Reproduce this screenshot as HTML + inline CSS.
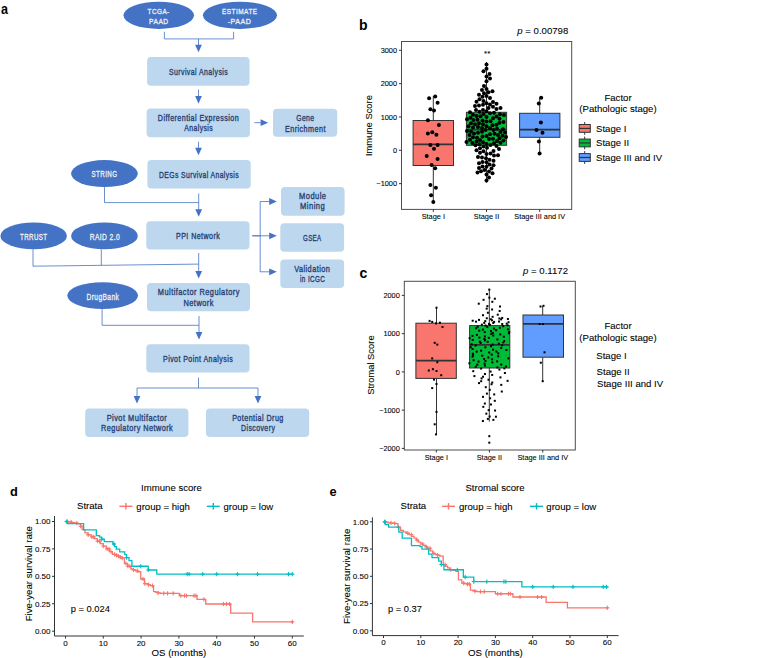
<!DOCTYPE html>
<html><head><meta charset="utf-8"><style>
html,body{margin:0;padding:0;background:#fff;width:764px;height:658px;overflow:hidden}
svg{display:block;font-family:"Liberation Sans", sans-serif}
</style></head><body>
<svg width="764" height="658" viewBox="0 0 764 658">
<rect width="764" height="658" fill="#fff"/>
<text x="0.9" y="13.5" font-size="14" font-weight="bold" fill="#000" textLength="7.0" lengthAdjust="spacingAndGlyphs">a</text>
<ellipse cx="158.75" cy="15.35" rx="35.25" ry="13.55" fill="#4472C4"/>
<text transform="translate(147.55,13.80) scale(0.8200,1)" letter-spacing="0.55" font-size="7.8" font-weight="normal" fill="#F2F2F2" stroke="#F2F2F2" stroke-width="0.3">TCGA-</text>
<text transform="translate(149.05,24.00) scale(0.8560,1)" letter-spacing="0.55" font-size="7.8" font-weight="normal" fill="#F2F2F2" stroke="#F2F2F2" stroke-width="0.3">PAAD</text>
<ellipse cx="239.95" cy="15.35" rx="37.05" ry="13.55" fill="#4472C4"/>
<text transform="translate(222.05,13.80) scale(0.8303,1)" letter-spacing="0.55" font-size="7.8" font-weight="normal" fill="#F2F2F2" stroke="#F2F2F2" stroke-width="0.3">ESTIMATE</text>
<text transform="translate(227.65,24.00) scale(0.9152,1)" letter-spacing="0.55" font-size="7.8" font-weight="normal" fill="#F2F2F2" stroke="#F2F2F2" stroke-width="0.3">-PAAD</text>
<path d="M164.40 31.80 L164.40 38.90 L233.60 38.90 L233.60 31.80" fill="none" stroke="#4472C4" stroke-width="0.8"/>
<path d="M198.50 38.90 L198.50 45.70" fill="none" stroke="#4472C4" stroke-width="0.8"/>
<path d="M195.10 44.70 L201.90 44.70 L198.50 52.30 Z" fill="#4472C4"/>
<rect x="147.10" y="57.10" width="102.40" height="28.70" rx="4" ry="4" fill="#BDD7EE"/>
<text transform="translate(168.95,75.10) scale(0.7780,1)" letter-spacing="0.55" font-size="8.9" font-weight="normal" fill="#273F72" stroke="#273F72" stroke-width="0.35">Survival Analysis</text>
<path d="M198.50 89.50 L198.50 97.10" fill="none" stroke="#4472C4" stroke-width="0.8"/>
<path d="M195.10 96.10 L201.90 96.10 L198.50 103.70 Z" fill="#4472C4"/>
<rect x="146.60" y="108.60" width="103.30" height="28.60" rx="4" ry="4" fill="#BDD7EE"/>
<text transform="translate(157.85,121.20) scale(0.8012,1)" letter-spacing="0.55" font-size="8.9" font-weight="normal" fill="#273F72" stroke="#273F72" stroke-width="0.35">Differential Expression</text>
<text transform="translate(184.25,131.40) scale(0.7705,1)" letter-spacing="0.55" font-size="8.9" font-weight="normal" fill="#273F72" stroke="#273F72" stroke-width="0.35">Analysis</text>
<path d="M254.30 122.70 L261.60 122.70" fill="none" stroke="#4472C4" stroke-width="0.8"/>
<path d="M260.60 119.30 L260.60 126.10 L268.20 122.70 Z" fill="#4472C4"/>
<rect x="273.00" y="108.80" width="64.20" height="28.00" rx="4" ry="4" fill="#BDD7EE"/>
<text transform="translate(296.15,121.20) scale(0.7686,1)" letter-spacing="0.55" font-size="8.9" font-weight="normal" fill="#273F72" stroke="#273F72" stroke-width="0.35">Gene</text>
<text transform="translate(284.95,131.60) scale(0.8106,1)" letter-spacing="0.55" font-size="8.9" font-weight="normal" fill="#273F72" stroke="#273F72" stroke-width="0.35">Enrichment</text>
<path d="M198.50 141.80 L198.50 148.70" fill="none" stroke="#4472C4" stroke-width="0.8"/>
<path d="M195.10 147.70 L201.90 147.70 L198.50 155.30 Z" fill="#4472C4"/>
<rect x="147.40" y="160.00" width="103.30" height="28.50" rx="4" ry="4" fill="#BDD7EE"/>
<text transform="translate(159.05,177.80) scale(0.7624,1)" letter-spacing="0.55" font-size="8.9" font-weight="normal" fill="#273F72" stroke="#273F72" stroke-width="0.35">DEGs Survival Analysis</text>
<ellipse cx="104.45" cy="173.60" rx="33.35" ry="13.50" fill="#4472C4"/>
<text transform="translate(91.55,177.00) scale(0.7236,1)" letter-spacing="0.55" font-size="8.6" font-weight="normal" fill="#F2F2F2" stroke="#F2F2F2" stroke-width="0.3">STRING</text>
<path d="M104.50 187.10 L104.50 202.60 L198.70 202.60" fill="none" stroke="#4472C4" stroke-width="0.8"/>
<path d="M198.70 193.50 L198.70 210.20" fill="none" stroke="#4472C4" stroke-width="0.8"/>
<path d="M195.30 209.20 L202.10 209.20 L198.70 216.80 Z" fill="#4472C4"/>
<rect x="146.30" y="221.30" width="103.20" height="28.30" rx="4" ry="4" fill="#BDD7EE"/>
<text transform="translate(176.05,239.30) scale(0.7970,1)" letter-spacing="0.55" font-size="8.9" font-weight="normal" fill="#273F72" stroke="#273F72" stroke-width="0.35">PPI Network</text>
<ellipse cx="33.65" cy="235.90" rx="33.25" ry="13.30" fill="#4472C4"/>
<text transform="translate(20.05,239.60) scale(0.7176,1)" letter-spacing="0.55" font-size="8.6" font-weight="normal" fill="#F2F2F2" stroke="#F2F2F2" stroke-width="0.3">TRRUST</text>
<ellipse cx="104.45" cy="235.90" rx="33.35" ry="13.30" fill="#4472C4"/>
<text transform="translate(89.65,239.60) scale(0.7770,1)" letter-spacing="0.55" font-size="8.6" font-weight="normal" fill="#F2F2F2" stroke="#F2F2F2" stroke-width="0.3">RAID 2.0</text>
<path d="M33.00 249.20 L33.00 266.20 L198.70 264.10" fill="none" stroke="#4472C4" stroke-width="0.8"/>
<path d="M101.30 249.20 L101.30 265.30" fill="none" stroke="#4472C4" stroke-width="0.8"/>
<path d="M198.70 253.00 L198.70 271.90" fill="none" stroke="#4472C4" stroke-width="0.8"/>
<path d="M195.30 270.90 L202.10 270.90 L198.70 278.50 Z" fill="#4472C4"/>
<path d="M252.30 235.80 L260.20 235.80" fill="none" stroke="#4472C4" stroke-width="0.8"/>
<path d="M260.20 201.50 L260.20 272.00" fill="none" stroke="#4472C4" stroke-width="0.8"/>
<path d="M260.20 201.50 L270.20 201.50" fill="none" stroke="#4472C4" stroke-width="0.8"/>
<path d="M269.20 198.10 L269.20 204.90 L276.80 201.50 Z" fill="#4472C4"/>
<path d="M252.30 235.80 L270.20 235.80" fill="none" stroke="#4472C4" stroke-width="0.8"/>
<path d="M269.20 232.40 L269.20 239.20 L276.80 235.80 Z" fill="#4472C4"/>
<path d="M260.20 271.80 L270.20 271.80" fill="none" stroke="#4472C4" stroke-width="0.8"/>
<path d="M269.20 268.40 L269.20 275.20 L276.80 271.80 Z" fill="#4472C4"/>
<rect x="281.00" y="187.10" width="63.60" height="28.70" rx="4" ry="4" fill="#BDD7EE"/>
<text transform="translate(299.05,199.20) scale(0.8423,1)" letter-spacing="0.55" font-size="8.9" font-weight="normal" fill="#273F72" stroke="#273F72" stroke-width="0.35">Module</text>
<text transform="translate(300.05,209.30) scale(0.8527,1)" letter-spacing="0.55" font-size="8.9" font-weight="normal" fill="#273F72" stroke="#273F72" stroke-width="0.35">Mining</text>
<rect x="280.30" y="223.20" width="63.80" height="28.50" rx="4" ry="4" fill="#BDD7EE"/>
<text transform="translate(303.05,240.70) scale(0.6861,1)" letter-spacing="0.55" font-size="8.9" font-weight="normal" fill="#273F72" stroke="#273F72" stroke-width="0.35">GSEA</text>
<rect x="280.30" y="259.40" width="63.80" height="28.50" rx="4" ry="4" fill="#BDD7EE"/>
<text transform="translate(294.15,271.80) scale(0.8230,1)" letter-spacing="0.55" font-size="8.9" font-weight="normal" fill="#273F72" stroke="#273F72" stroke-width="0.35">Validation</text>
<text transform="translate(300.05,282.20) scale(0.7096,1)" letter-spacing="0.55" font-size="8.9" font-weight="normal" fill="#273F72" stroke="#273F72" stroke-width="0.35">in ICGC</text>
<rect x="147.00" y="283.00" width="103.00" height="28.30" rx="4" ry="4" fill="#BDD7EE"/>
<text transform="translate(157.85,295.30) scale(0.8317,1)" letter-spacing="0.55" font-size="8.9" font-weight="normal" fill="#273F72" stroke="#273F72" stroke-width="0.35">Multifactor Regulatory</text>
<text transform="translate(183.45,306.00) scale(0.8375,1)" letter-spacing="0.55" font-size="8.9" font-weight="normal" fill="#273F72" stroke="#273F72" stroke-width="0.35">Network</text>
<ellipse cx="102.65" cy="295.55" rx="35.35" ry="13.35" fill="#4472C4"/>
<text transform="translate(86.45,299.50) scale(0.7721,1)" letter-spacing="0.55" font-size="8.6" font-weight="normal" fill="#F2F2F2" stroke="#F2F2F2" stroke-width="0.3">DrugBank</text>
<path d="M102.10 308.90 L102.10 325.30 L199.00 325.30" fill="none" stroke="#4472C4" stroke-width="0.8"/>
<path d="M199.00 316.00 L199.00 332.90" fill="none" stroke="#4472C4" stroke-width="0.8"/>
<path d="M195.60 331.90 L202.40 331.90 L199.00 339.50 Z" fill="#4472C4"/>
<rect x="146.30" y="344.30" width="103.20" height="28.30" rx="4" ry="4" fill="#BDD7EE"/>
<text transform="translate(163.05,362.30) scale(0.7910,1)" letter-spacing="0.55" font-size="8.9" font-weight="normal" fill="#273F72" stroke="#273F72" stroke-width="0.35">Pivot Point Analysis</text>
<path d="M198.50 377.60 L198.50 388.00" fill="none" stroke="#4472C4" stroke-width="0.8"/>
<path d="M137.00 388.00 L258.00 388.00" fill="none" stroke="#4472C4" stroke-width="0.8"/>
<path d="M137.00 388.00 L137.00 396.90" fill="none" stroke="#4472C4" stroke-width="0.8"/>
<path d="M133.60 395.90 L140.40 395.90 L137.00 403.50 Z" fill="#4472C4"/>
<path d="M258.00 388.00 L258.00 396.90" fill="none" stroke="#4472C4" stroke-width="0.8"/>
<path d="M254.60 395.90 L261.40 395.90 L258.00 403.50 Z" fill="#4472C4"/>
<rect x="85.20" y="408.60" width="103.20" height="28.30" rx="4" ry="4" fill="#BDD7EE"/>
<text transform="translate(106.65,421.20) scale(0.8363,1)" letter-spacing="0.55" font-size="8.9" font-weight="normal" fill="#273F72" stroke="#273F72" stroke-width="0.35">Pivot Multifactor</text>
<text transform="translate(100.95,431.40) scale(0.8206,1)" letter-spacing="0.55" font-size="8.9" font-weight="normal" fill="#273F72" stroke="#273F72" stroke-width="0.35">Regulatory Network</text>
<rect x="206.00" y="408.60" width="103.20" height="28.30" rx="4" ry="4" fill="#BDD7EE"/>
<text transform="translate(232.15,421.20) scale(0.8057,1)" letter-spacing="0.55" font-size="8.9" font-weight="normal" fill="#273F72" stroke="#273F72" stroke-width="0.35">Potential Drug</text>
<text transform="translate(241.05,431.40) scale(0.7776,1)" letter-spacing="0.55" font-size="8.9" font-weight="normal" fill="#273F72" stroke="#273F72" stroke-width="0.35">Discovery</text>
<rect x="401.50" y="41.50" width="170.20" height="167.90" fill="none" stroke="#4D4D4D" stroke-width="1"/>
<line x1="399.00" y1="50.31" x2="401.50" y2="50.31" stroke="#333" stroke-width="1"/>
<text x="397.00" y="52.96" font-size="7.36" text-anchor="end" fill="#000" stroke="#000" stroke-width="0.08" >3000</text>
<line x1="399.00" y1="83.64" x2="401.50" y2="83.64" stroke="#333" stroke-width="1"/>
<text x="397.00" y="86.29" font-size="7.36" text-anchor="end" fill="#000" stroke="#000" stroke-width="0.08" >2000</text>
<line x1="399.00" y1="116.97" x2="401.50" y2="116.97" stroke="#333" stroke-width="1"/>
<text x="397.00" y="119.62" font-size="7.36" text-anchor="end" fill="#000" stroke="#000" stroke-width="0.08" >1000</text>
<line x1="399.00" y1="150.30" x2="401.50" y2="150.30" stroke="#333" stroke-width="1"/>
<text x="397.00" y="152.95" font-size="7.36" text-anchor="end" fill="#000" stroke="#000" stroke-width="0.08" >0</text>
<line x1="399.00" y1="183.63" x2="401.50" y2="183.63" stroke="#333" stroke-width="1"/>
<text x="397.00" y="186.28" font-size="7.36" text-anchor="end" fill="#000" stroke="#000" stroke-width="0.08" >−1000</text>
<text transform="translate(371.70,125.60) rotate(-90)" font-size="9.4" text-anchor="middle" fill="#000" stroke="#000" stroke-width="0.08">Immune Score</text>
<line x1="433.30" y1="209.40" x2="433.30" y2="211.90" stroke="#333" stroke-width="1"/>
<text x="433.30" y="219.00" font-size="7.36" text-anchor="middle" fill="#000" stroke="#000" stroke-width="0.08" >Stage I</text>
<line x1="486.50" y1="209.40" x2="486.50" y2="211.90" stroke="#333" stroke-width="1"/>
<text x="486.50" y="219.00" font-size="7.36" text-anchor="middle" fill="#000" stroke="#000" stroke-width="0.08" >Stage II</text>
<line x1="539.70" y1="209.40" x2="539.70" y2="211.90" stroke="#333" stroke-width="1"/>
<text x="539.70" y="219.00" font-size="7.36" text-anchor="middle" fill="#000" stroke="#000" stroke-width="0.08" >Stage III and IV</text>
<text x="359.00" y="30.00" font-size="14" text-anchor="start" fill="#000" font-weight="bold">b</text>
<text x="568.3" y="33.9" font-size="9.6" text-anchor="end" fill="#000" stroke="#000" stroke-width="0.08"><tspan font-style="italic">p</tspan> = 0.00798</text>
<text x="487.20" y="55.50" font-size="8" text-anchor="middle" fill="#000" stroke="#000" stroke-width="0.08" >**</text>
<line x1="433.30" y1="95.97" x2="433.30" y2="120.50" stroke="#333" stroke-width="1"/>
<line x1="433.30" y1="165.50" x2="433.30" y2="202.96" stroke="#333" stroke-width="1"/>
<rect x="413.10" y="120.50" width="40.40" height="45.00" fill="#F8766D" stroke="#333" stroke-width="1"/>
<line x1="413.10" y1="144.30" x2="453.50" y2="144.30" stroke="#333" stroke-width="1.8"/>
<line x1="486.50" y1="61.98" x2="486.50" y2="112.30" stroke="#333" stroke-width="1"/>
<line x1="486.50" y1="145.30" x2="486.50" y2="182.63" stroke="#333" stroke-width="1"/>
<rect x="466.40" y="112.30" width="40.20" height="33.00" fill="#00BA38" stroke="#333" stroke-width="1"/>
<line x1="466.40" y1="129.64" x2="506.60" y2="129.64" stroke="#333" stroke-width="1.8"/>
<line x1="539.70" y1="97.31" x2="539.70" y2="113.30" stroke="#333" stroke-width="1"/>
<line x1="539.70" y1="137.30" x2="539.70" y2="153.30" stroke="#333" stroke-width="1"/>
<rect x="519.60" y="113.30" width="40.30" height="24.00" fill="#619CFF" stroke="#333" stroke-width="1"/>
<line x1="519.60" y1="129.70" x2="559.90" y2="129.70" stroke="#333" stroke-width="1.8"/>
<circle cx="429.10" cy="98.30" r="2" fill="#000"/>
<circle cx="435.20" cy="96.40" r="2" fill="#000"/>
<circle cx="437.60" cy="102.70" r="2" fill="#000"/>
<circle cx="430.40" cy="109.20" r="2" fill="#000"/>
<circle cx="434.00" cy="110.40" r="2" fill="#000"/>
<circle cx="427.90" cy="120.20" r="2" fill="#000"/>
<circle cx="438.90" cy="125.00" r="2" fill="#000"/>
<circle cx="427.90" cy="133.50" r="2" fill="#000"/>
<circle cx="432.30" cy="132.30" r="2" fill="#000"/>
<circle cx="436.40" cy="134.70" r="2" fill="#000"/>
<circle cx="430.40" cy="144.90" r="2" fill="#000"/>
<circle cx="437.60" cy="144.90" r="2" fill="#000"/>
<circle cx="434.00" cy="148.80" r="2" fill="#000"/>
<circle cx="426.70" cy="156.10" r="2" fill="#000"/>
<circle cx="437.60" cy="159.00" r="2" fill="#000"/>
<circle cx="431.60" cy="165.10" r="2" fill="#000"/>
<circle cx="435.20" cy="168.20" r="2" fill="#000"/>
<circle cx="430.40" cy="185.00" r="2" fill="#000"/>
<circle cx="435.90" cy="187.70" r="2" fill="#000"/>
<circle cx="431.10" cy="195.30" r="2" fill="#000"/>
<circle cx="433.30" cy="202.10" r="2" fill="#000"/>
<circle cx="541.20" cy="97.80" r="2" fill="#000"/>
<circle cx="538.80" cy="103.50" r="2" fill="#000"/>
<circle cx="540.90" cy="122.60" r="2" fill="#000"/>
<circle cx="536.50" cy="129.90" r="2" fill="#000"/>
<circle cx="542.50" cy="132.80" r="2" fill="#000"/>
<circle cx="538.90" cy="141.40" r="2" fill="#000"/>
<circle cx="539.60" cy="153.50" r="2" fill="#000"/>
<circle cx="486.50" cy="180.54" r="2" fill="#000"/>
<circle cx="489.00" cy="177.39" r="2" fill="#000"/>
<circle cx="486.50" cy="174.42" r="2" fill="#000"/>
<circle cx="492.50" cy="173.26" r="2" fill="#000"/>
<circle cx="477.50" cy="172.51" r="2" fill="#000"/>
<circle cx="489.00" cy="171.40" r="2" fill="#000"/>
<circle cx="481.00" cy="171.30" r="2" fill="#000"/>
<circle cx="484.50" cy="169.95" r="2" fill="#000"/>
<circle cx="491.50" cy="168.57" r="2" fill="#000"/>
<circle cx="479.00" cy="167.90" r="2" fill="#000"/>
<circle cx="486.50" cy="166.73" r="2" fill="#000"/>
<circle cx="482.50" cy="166.53" r="2" fill="#000"/>
<circle cx="493.50" cy="165.26" r="2" fill="#000"/>
<circle cx="489.50" cy="164.53" r="2" fill="#000"/>
<circle cx="479.00" cy="163.31" r="2" fill="#000"/>
<circle cx="486.50" cy="162.34" r="2" fill="#000"/>
<circle cx="482.50" cy="161.93" r="2" fill="#000"/>
<circle cx="493.50" cy="160.80" r="2" fill="#000"/>
<circle cx="489.50" cy="159.80" r="2" fill="#000"/>
<circle cx="486.00" cy="158.27" r="2" fill="#000"/>
<circle cx="482.00" cy="157.47" r="2" fill="#000"/>
<circle cx="478.00" cy="157.10" r="2" fill="#000"/>
<circle cx="494.00" cy="155.56" r="2" fill="#000"/>
<circle cx="498.00" cy="155.24" r="2" fill="#000"/>
<circle cx="486.50" cy="153.92" r="2" fill="#000"/>
<circle cx="490.50" cy="153.52" r="2" fill="#000"/>
<circle cx="480.00" cy="152.82" r="2" fill="#000"/>
<circle cx="483.50" cy="151.34" r="2" fill="#000"/>
<circle cx="493.50" cy="151.08" r="2" fill="#000"/>
<circle cx="476.50" cy="150.28" r="2" fill="#000"/>
<circle cx="499.00" cy="148.88" r="2" fill="#000"/>
<circle cx="480.00" cy="148.17" r="2" fill="#000"/>
<circle cx="487.00" cy="147.84" r="2" fill="#000"/>
<circle cx="483.50" cy="146.52" r="2" fill="#000"/>
<circle cx="496.50" cy="146.06" r="2" fill="#000"/>
<circle cx="475.50" cy="145.22" r="2" fill="#000"/>
<circle cx="490.50" cy="144.99" r="2" fill="#000"/>
<circle cx="479.50" cy="144.22" r="2" fill="#000"/>
<circle cx="486.50" cy="143.89" r="2" fill="#000"/>
<circle cx="494.00" cy="143.33" r="2" fill="#000"/>
<circle cx="472.50" cy="142.92" r="2" fill="#000"/>
<circle cx="500.50" cy="142.74" r="2" fill="#000"/>
<circle cx="483.00" cy="142.27" r="2" fill="#000"/>
<circle cx="466.50" cy="141.92" r="2" fill="#000"/>
<circle cx="476.50" cy="141.49" r="2" fill="#000"/>
<circle cx="497.00" cy="141.08" r="2" fill="#000"/>
<circle cx="503.50" cy="140.53" r="2" fill="#000"/>
<circle cx="480.00" cy="139.96" r="2" fill="#000"/>
<circle cx="470.00" cy="139.78" r="2" fill="#000"/>
<circle cx="489.00" cy="139.04" r="2" fill="#000"/>
<circle cx="493.00" cy="138.75" r="2" fill="#000"/>
<circle cx="499.50" cy="138.32" r="2" fill="#000"/>
<circle cx="477.00" cy="137.66" r="2" fill="#000"/>
<circle cx="473.00" cy="137.37" r="2" fill="#000"/>
<circle cx="506.00" cy="137.00" r="2" fill="#000"/>
<circle cx="482.50" cy="136.48" r="2" fill="#000"/>
<circle cx="486.50" cy="135.94" r="2" fill="#000"/>
<circle cx="502.50" cy="135.79" r="2" fill="#000"/>
<circle cx="498.00" cy="134.94" r="2" fill="#000"/>
<circle cx="469.50" cy="134.92" r="2" fill="#000"/>
<circle cx="490.00" cy="134.16" r="2" fill="#000"/>
<circle cx="494.50" cy="133.68" r="2" fill="#000"/>
<circle cx="474.00" cy="133.60" r="2" fill="#000"/>
<circle cx="478.00" cy="132.82" r="2" fill="#000"/>
<circle cx="505.00" cy="132.56" r="2" fill="#000"/>
<circle cx="500.50" cy="132.03" r="2" fill="#000"/>
<circle cx="482.00" cy="131.84" r="2" fill="#000"/>
<circle cx="471.00" cy="131.38" r="2" fill="#000"/>
<circle cx="467.00" cy="130.88" r="2" fill="#000"/>
<circle cx="493.50" cy="130.10" r="2" fill="#000"/>
<circle cx="485.50" cy="129.99" r="2" fill="#000"/>
<circle cx="503.00" cy="129.27" r="2" fill="#000"/>
<circle cx="497.00" cy="128.69" r="2" fill="#000"/>
<circle cx="490.00" cy="128.20" r="2" fill="#000"/>
<circle cx="482.00" cy="128.00" r="2" fill="#000"/>
<circle cx="473.00" cy="127.51" r="2" fill="#000"/>
<circle cx="478.00" cy="126.94" r="2" fill="#000"/>
<circle cx="486.50" cy="126.33" r="2" fill="#000"/>
<circle cx="468.50" cy="126.17" r="2" fill="#000"/>
<circle cx="492.50" cy="125.36" r="2" fill="#000"/>
<circle cx="496.50" cy="124.85" r="2" fill="#000"/>
<circle cx="475.00" cy="124.33" r="2" fill="#000"/>
<circle cx="483.00" cy="124.25" r="2" fill="#000"/>
<circle cx="471.00" cy="123.32" r="2" fill="#000"/>
<circle cx="479.00" cy="123.24" r="2" fill="#000"/>
<circle cx="499.50" cy="122.63" r="2" fill="#000"/>
<circle cx="503.50" cy="122.01" r="2" fill="#000"/>
<circle cx="486.50" cy="121.38" r="2" fill="#000"/>
<circle cx="490.50" cy="121.17" r="2" fill="#000"/>
<circle cx="482.50" cy="120.40" r="2" fill="#000"/>
<circle cx="473.50" cy="120.09" r="2" fill="#000"/>
<circle cx="477.50" cy="119.72" r="2" fill="#000"/>
<circle cx="467.00" cy="119.23" r="2" fill="#000"/>
<circle cx="499.50" cy="118.81" r="2" fill="#000"/>
<circle cx="493.00" cy="118.37" r="2" fill="#000"/>
<circle cx="470.50" cy="117.85" r="2" fill="#000"/>
<circle cx="486.50" cy="117.09" r="2" fill="#000"/>
<circle cx="496.50" cy="116.46" r="2" fill="#000"/>
<circle cx="480.50" cy="116.37" r="2" fill="#000"/>
<circle cx="476.50" cy="115.94" r="2" fill="#000"/>
<circle cx="504.00" cy="115.00" r="2" fill="#000"/>
<circle cx="473.00" cy="114.73" r="2" fill="#000"/>
<circle cx="500.00" cy="114.30" r="2" fill="#000"/>
<circle cx="483.50" cy="113.90" r="2" fill="#000"/>
<circle cx="490.00" cy="113.23" r="2" fill="#000"/>
<circle cx="494.00" cy="112.63" r="2" fill="#000"/>
<circle cx="470.00" cy="112.33" r="2" fill="#000"/>
<circle cx="479.50" cy="111.69" r="2" fill="#000"/>
<circle cx="486.50" cy="111.27" r="2" fill="#000"/>
<circle cx="483.00" cy="110.03" r="2" fill="#000"/>
<circle cx="476.00" cy="109.95" r="2" fill="#000"/>
<circle cx="496.50" cy="108.98" r="2" fill="#000"/>
<circle cx="488.50" cy="108.09" r="2" fill="#000"/>
<circle cx="500.50" cy="107.89" r="2" fill="#000"/>
<circle cx="493.00" cy="106.83" r="2" fill="#000"/>
<circle cx="475.00" cy="106.02" r="2" fill="#000"/>
<circle cx="479.00" cy="105.57" r="2" fill="#000"/>
<circle cx="483.00" cy="104.80" r="2" fill="#000"/>
<circle cx="490.00" cy="104.58" r="2" fill="#000"/>
<circle cx="496.50" cy="103.70" r="2" fill="#000"/>
<circle cx="486.50" cy="103.23" r="2" fill="#000"/>
<circle cx="493.00" cy="102.10" r="2" fill="#000"/>
<circle cx="476.50" cy="101.80" r="2" fill="#000"/>
<circle cx="483.50" cy="101.03" r="2" fill="#000"/>
<circle cx="479.50" cy="99.16" r="2" fill="#000"/>
<circle cx="490.00" cy="98.10" r="2" fill="#000"/>
<circle cx="482.50" cy="96.71" r="2" fill="#000"/>
<circle cx="486.50" cy="96.12" r="2" fill="#000"/>
<circle cx="479.00" cy="94.83" r="2" fill="#000"/>
<circle cx="484.00" cy="93.29" r="2" fill="#000"/>
<circle cx="488.50" cy="92.36" r="2" fill="#000"/>
<circle cx="492.50" cy="91.36" r="2" fill="#000"/>
<circle cx="482.00" cy="89.97" r="2" fill="#000"/>
<circle cx="486.50" cy="89.05" r="2" fill="#000"/>
<circle cx="484.00" cy="86.01" r="2" fill="#000"/>
<circle cx="486.50" cy="81.28" r="2" fill="#000"/>
<circle cx="490.00" cy="78.43" r="2" fill="#000"/>
<circle cx="486.50" cy="76.47" r="2" fill="#000"/>
<circle cx="489.50" cy="73.91" r="2" fill="#000"/>
<circle cx="483.50" cy="71.35" r="2" fill="#000"/>
<circle cx="486.50" cy="68.70" r="2" fill="#000"/>
<circle cx="486.50" cy="64.54" r="2" fill="#000"/>
<text x="618.00" y="100.60" font-size="9.6" text-anchor="middle" fill="#000" stroke="#000" stroke-width="0.08" >Factor</text>
<text x="618.00" y="112.20" font-size="9.6" text-anchor="middle" fill="#000" stroke="#000" stroke-width="0.08" >(Pathologic stage)</text>
<line x1="584.70" y1="122.00" x2="584.70" y2="134.80" stroke="#333" stroke-width="1"/>
<rect x="579.20" y="124.50" width="11.10" height="7.80" fill="#F8766D" stroke="#333" stroke-width="1"/>
<line x1="579.20" y1="128.40" x2="590.30" y2="128.40" stroke="#333" stroke-width="1.2"/>
<text x="596.00" y="131.60" font-size="9.6" text-anchor="start" fill="#000" stroke="#000" stroke-width="0.08" >Stage I</text>
<line x1="584.70" y1="136.55" x2="584.70" y2="149.35" stroke="#333" stroke-width="1"/>
<rect x="579.20" y="139.05" width="11.10" height="7.80" fill="#00BA38" stroke="#333" stroke-width="1"/>
<line x1="579.20" y1="142.95" x2="590.30" y2="142.95" stroke="#333" stroke-width="1.2"/>
<text x="596.00" y="146.15" font-size="9.6" text-anchor="start" fill="#000" stroke="#000" stroke-width="0.08" >Stage II</text>
<line x1="584.70" y1="151.10" x2="584.70" y2="163.90" stroke="#333" stroke-width="1"/>
<rect x="579.20" y="153.60" width="11.10" height="7.80" fill="#619CFF" stroke="#333" stroke-width="1"/>
<line x1="579.20" y1="157.50" x2="590.30" y2="157.50" stroke="#333" stroke-width="1.2"/>
<text x="596.00" y="160.70" font-size="9.6" text-anchor="start" fill="#000" stroke="#000" stroke-width="0.08" >Stage III and IV</text>
<rect x="404.30" y="281.30" width="171.00" height="168.70" fill="none" stroke="#4D4D4D" stroke-width="1"/>
<line x1="401.80" y1="295.40" x2="404.30" y2="295.40" stroke="#333" stroke-width="1"/>
<text x="399.80" y="298.05" font-size="7.36" text-anchor="end" fill="#000" stroke="#000" stroke-width="0.08" >2000</text>
<line x1="401.80" y1="333.65" x2="404.30" y2="333.65" stroke="#333" stroke-width="1"/>
<text x="399.80" y="336.30" font-size="7.36" text-anchor="end" fill="#000" stroke="#000" stroke-width="0.08" >1000</text>
<line x1="401.80" y1="371.90" x2="404.30" y2="371.90" stroke="#333" stroke-width="1"/>
<text x="399.80" y="374.55" font-size="7.36" text-anchor="end" fill="#000" stroke="#000" stroke-width="0.08" >0</text>
<line x1="401.80" y1="410.15" x2="404.30" y2="410.15" stroke="#333" stroke-width="1"/>
<text x="399.80" y="412.80" font-size="7.36" text-anchor="end" fill="#000" stroke="#000" stroke-width="0.08" >−1000</text>
<line x1="401.80" y1="448.40" x2="404.30" y2="448.40" stroke="#333" stroke-width="1"/>
<text x="399.80" y="451.05" font-size="7.36" text-anchor="end" fill="#000" stroke="#000" stroke-width="0.08" >−2000</text>
<text transform="translate(373.90,365.10) rotate(-90)" font-size="9.4" text-anchor="middle" fill="#000" stroke="#000" stroke-width="0.08">Stromal Score</text>
<line x1="436.30" y1="450.00" x2="436.30" y2="452.50" stroke="#333" stroke-width="1"/>
<text x="436.30" y="459.60" font-size="7.36" text-anchor="middle" fill="#000" stroke="#000" stroke-width="0.08" >Stage I</text>
<line x1="489.40" y1="450.00" x2="489.40" y2="452.50" stroke="#333" stroke-width="1"/>
<text x="489.40" y="459.60" font-size="7.36" text-anchor="middle" fill="#000" stroke="#000" stroke-width="0.08" >Stage II</text>
<line x1="542.80" y1="450.00" x2="542.80" y2="452.50" stroke="#333" stroke-width="1"/>
<text x="542.80" y="459.60" font-size="7.36" text-anchor="middle" fill="#000" stroke="#000" stroke-width="0.08" >Stage III and IV</text>
<text x="359.60" y="277.90" font-size="14" text-anchor="start" fill="#000" font-weight="bold">c</text>
<text x="568" y="273.6" font-size="9.6" text-anchor="end" fill="#000" stroke="#000" stroke-width="0.08"><tspan font-style="italic">p</tspan> = 0.1172</text>
<line x1="436.50" y1="307.50" x2="436.50" y2="323.20" stroke="#333" stroke-width="1"/>
<line x1="436.50" y1="378.40" x2="436.50" y2="434.30" stroke="#333" stroke-width="1"/>
<rect x="415.90" y="323.20" width="40.40" height="55.20" fill="#F8766D" stroke="#333" stroke-width="1"/>
<line x1="415.90" y1="360.60" x2="456.30" y2="360.60" stroke="#333" stroke-width="1.8"/>
<line x1="489.30" y1="289.20" x2="489.30" y2="325.60" stroke="#333" stroke-width="1"/>
<line x1="489.30" y1="368.00" x2="489.30" y2="421.60" stroke="#333" stroke-width="1"/>
<rect x="469.60" y="325.60" width="40.20" height="42.40" fill="#00BA38" stroke="#333" stroke-width="1"/>
<line x1="469.60" y1="344.80" x2="509.80" y2="344.80" stroke="#333" stroke-width="1.8"/>
<line x1="542.70" y1="306.00" x2="542.70" y2="315.00" stroke="#333" stroke-width="1"/>
<line x1="542.70" y1="357.20" x2="542.70" y2="381.20" stroke="#333" stroke-width="1"/>
<rect x="523.00" y="315.00" width="40.50" height="42.20" fill="#619CFF" stroke="#333" stroke-width="1"/>
<line x1="523.00" y1="323.90" x2="563.50" y2="323.90" stroke="#333" stroke-width="1.8"/>
<rect x="435.50" y="306.70" width="2.00" height="2.00" fill="#000" stroke="none" stroke-width="1"/>
<rect x="428.60" y="319.90" width="2.00" height="2.00" fill="#000" stroke="none" stroke-width="1"/>
<rect x="431.20" y="320.90" width="2.00" height="2.00" fill="#000" stroke="none" stroke-width="1"/>
<rect x="435.00" y="322.40" width="2.00" height="2.00" fill="#000" stroke="none" stroke-width="1"/>
<rect x="438.90" y="321.70" width="2.00" height="2.00" fill="#000" stroke="none" stroke-width="1"/>
<rect x="441.50" y="326.00" width="2.00" height="2.00" fill="#000" stroke="none" stroke-width="1"/>
<rect x="433.70" y="341.80" width="2.00" height="2.00" fill="#000" stroke="none" stroke-width="1"/>
<rect x="436.30" y="343.60" width="2.00" height="2.00" fill="#000" stroke="none" stroke-width="1"/>
<rect x="431.20" y="357.40" width="2.00" height="2.00" fill="#000" stroke="none" stroke-width="1"/>
<rect x="436.30" y="361.20" width="2.00" height="2.00" fill="#000" stroke="none" stroke-width="1"/>
<rect x="427.80" y="369.50" width="2.00" height="2.00" fill="#000" stroke="none" stroke-width="1"/>
<rect x="431.90" y="368.20" width="2.00" height="2.00" fill="#000" stroke="none" stroke-width="1"/>
<rect x="435.50" y="370.00" width="2.00" height="2.00" fill="#000" stroke="none" stroke-width="1"/>
<rect x="440.20" y="374.20" width="2.00" height="2.00" fill="#000" stroke="none" stroke-width="1"/>
<rect x="433.00" y="378.60" width="2.00" height="2.00" fill="#000" stroke="none" stroke-width="1"/>
<rect x="435.50" y="383.00" width="2.00" height="2.00" fill="#000" stroke="none" stroke-width="1"/>
<rect x="431.20" y="387.10" width="2.00" height="2.00" fill="#000" stroke="none" stroke-width="1"/>
<rect x="435.50" y="410.90" width="2.00" height="2.00" fill="#000" stroke="none" stroke-width="1"/>
<rect x="433.70" y="423.30" width="2.00" height="2.00" fill="#000" stroke="none" stroke-width="1"/>
<rect x="435.00" y="433.40" width="2.00" height="2.00" fill="#000" stroke="none" stroke-width="1"/>
<rect x="539.50" y="305.50" width="2.00" height="2.00" fill="#000" stroke="none" stroke-width="1"/>
<rect x="542.50" y="304.80" width="2.00" height="2.00" fill="#000" stroke="none" stroke-width="1"/>
<rect x="538.70" y="323.00" width="2.00" height="2.00" fill="#000" stroke="none" stroke-width="1"/>
<rect x="542.00" y="323.00" width="2.00" height="2.00" fill="#000" stroke="none" stroke-width="1"/>
<rect x="543.50" y="351.30" width="2.00" height="2.00" fill="#000" stroke="none" stroke-width="1"/>
<rect x="539.80" y="361.70" width="2.00" height="2.00" fill="#000" stroke="none" stroke-width="1"/>
<rect x="541.70" y="380.20" width="2.00" height="2.00" fill="#000" stroke="none" stroke-width="1"/>
<rect x="481.88" y="420.03" width="2.00" height="2.00" fill="#000" stroke="none" stroke-width="1"/>
<rect x="492.37" y="418.87" width="2.00" height="2.00" fill="#000" stroke="none" stroke-width="1"/>
<rect x="486.83" y="417.90" width="2.00" height="2.00" fill="#000" stroke="none" stroke-width="1"/>
<rect x="494.93" y="415.70" width="2.00" height="2.00" fill="#000" stroke="none" stroke-width="1"/>
<rect x="488.67" y="415.52" width="2.00" height="2.00" fill="#000" stroke="none" stroke-width="1"/>
<rect x="485.34" y="412.65" width="2.00" height="2.00" fill="#000" stroke="none" stroke-width="1"/>
<rect x="494.04" y="409.54" width="2.00" height="2.00" fill="#000" stroke="none" stroke-width="1"/>
<rect x="487.66" y="409.13" width="2.00" height="2.00" fill="#000" stroke="none" stroke-width="1"/>
<rect x="482.29" y="405.84" width="2.00" height="2.00" fill="#000" stroke="none" stroke-width="1"/>
<rect x="490.00" y="403.47" width="2.00" height="2.00" fill="#000" stroke="none" stroke-width="1"/>
<rect x="483.84" y="402.52" width="2.00" height="2.00" fill="#000" stroke="none" stroke-width="1"/>
<rect x="493.78" y="399.82" width="2.00" height="2.00" fill="#000" stroke="none" stroke-width="1"/>
<rect x="489.18" y="397.29" width="2.00" height="2.00" fill="#000" stroke="none" stroke-width="1"/>
<rect x="482.02" y="395.85" width="2.00" height="2.00" fill="#000" stroke="none" stroke-width="1"/>
<rect x="493.21" y="393.42" width="2.00" height="2.00" fill="#000" stroke="none" stroke-width="1"/>
<rect x="485.90" y="392.59" width="2.00" height="2.00" fill="#000" stroke="none" stroke-width="1"/>
<rect x="500.81" y="390.53" width="2.00" height="2.00" fill="#000" stroke="none" stroke-width="1"/>
<rect x="488.78" y="388.86" width="2.00" height="2.00" fill="#000" stroke="none" stroke-width="1"/>
<rect x="484.77" y="386.19" width="2.00" height="2.00" fill="#000" stroke="none" stroke-width="1"/>
<rect x="500.26" y="383.88" width="2.00" height="2.00" fill="#000" stroke="none" stroke-width="1"/>
<rect x="490.52" y="383.24" width="2.00" height="2.00" fill="#000" stroke="none" stroke-width="1"/>
<rect x="478.02" y="382.10" width="2.00" height="2.00" fill="#000" stroke="none" stroke-width="1"/>
<rect x="491.25" y="381.52" width="2.00" height="2.00" fill="#000" stroke="none" stroke-width="1"/>
<rect x="480.18" y="380.21" width="2.00" height="2.00" fill="#000" stroke="none" stroke-width="1"/>
<rect x="506.59" y="379.87" width="2.00" height="2.00" fill="#000" stroke="none" stroke-width="1"/>
<rect x="487.49" y="378.73" width="2.00" height="2.00" fill="#000" stroke="none" stroke-width="1"/>
<rect x="480.57" y="377.40" width="2.00" height="2.00" fill="#000" stroke="none" stroke-width="1"/>
<rect x="499.46" y="376.39" width="2.00" height="2.00" fill="#000" stroke="none" stroke-width="1"/>
<rect x="482.05" y="375.72" width="2.00" height="2.00" fill="#000" stroke="none" stroke-width="1"/>
<rect x="473.39" y="375.08" width="2.00" height="2.00" fill="#000" stroke="none" stroke-width="1"/>
<rect x="491.19" y="373.95" width="2.00" height="2.00" fill="#000" stroke="none" stroke-width="1"/>
<rect x="483.94" y="373.04" width="2.00" height="2.00" fill="#000" stroke="none" stroke-width="1"/>
<rect x="503.91" y="372.01" width="2.00" height="2.00" fill="#000" stroke="none" stroke-width="1"/>
<rect x="489.62" y="370.54" width="2.00" height="2.00" fill="#000" stroke="none" stroke-width="1"/>
<rect x="472.26" y="370.17" width="2.00" height="2.00" fill="#000" stroke="none" stroke-width="1"/>
<rect x="498.39" y="368.55" width="2.00" height="2.00" fill="#000" stroke="none" stroke-width="1"/>
<rect x="480.14" y="367.59" width="2.00" height="2.00" fill="#000" stroke="none" stroke-width="1"/>
<rect x="503.36" y="367.43" width="2.00" height="2.00" fill="#000" stroke="none" stroke-width="1"/>
<rect x="496.37" y="366.46" width="2.00" height="2.00" fill="#000" stroke="none" stroke-width="1"/>
<rect x="474.78" y="365.77" width="2.00" height="2.00" fill="#000" stroke="none" stroke-width="1"/>
<rect x="504.96" y="365.44" width="2.00" height="2.00" fill="#000" stroke="none" stroke-width="1"/>
<rect x="483.96" y="364.57" width="2.00" height="2.00" fill="#000" stroke="none" stroke-width="1"/>
<rect x="476.28" y="363.66" width="2.00" height="2.00" fill="#000" stroke="none" stroke-width="1"/>
<rect x="500.26" y="363.53" width="2.00" height="2.00" fill="#000" stroke="none" stroke-width="1"/>
<rect x="483.59" y="362.61" width="2.00" height="2.00" fill="#000" stroke="none" stroke-width="1"/>
<rect x="468.39" y="362.29" width="2.00" height="2.00" fill="#000" stroke="none" stroke-width="1"/>
<rect x="491.29" y="361.39" width="2.00" height="2.00" fill="#000" stroke="none" stroke-width="1"/>
<rect x="477.50" y="360.57" width="2.00" height="2.00" fill="#000" stroke="none" stroke-width="1"/>
<rect x="496.15" y="360.38" width="2.00" height="2.00" fill="#000" stroke="none" stroke-width="1"/>
<rect x="484.41" y="359.89" width="2.00" height="2.00" fill="#000" stroke="none" stroke-width="1"/>
<rect x="472.64" y="359.22" width="2.00" height="2.00" fill="#000" stroke="none" stroke-width="1"/>
<rect x="491.10" y="358.32" width="2.00" height="2.00" fill="#000" stroke="none" stroke-width="1"/>
<rect x="483.04" y="358.02" width="2.00" height="2.00" fill="#000" stroke="none" stroke-width="1"/>
<rect x="507.41" y="357.37" width="2.00" height="2.00" fill="#000" stroke="none" stroke-width="1"/>
<rect x="487.35" y="356.49" width="2.00" height="2.00" fill="#000" stroke="none" stroke-width="1"/>
<rect x="471.63" y="355.61" width="2.00" height="2.00" fill="#000" stroke="none" stroke-width="1"/>
<rect x="497.21" y="355.30" width="2.00" height="2.00" fill="#000" stroke="none" stroke-width="1"/>
<rect x="481.28" y="354.70" width="2.00" height="2.00" fill="#000" stroke="none" stroke-width="1"/>
<rect x="472.09" y="353.93" width="2.00" height="2.00" fill="#000" stroke="none" stroke-width="1"/>
<rect x="490.73" y="353.65" width="2.00" height="2.00" fill="#000" stroke="none" stroke-width="1"/>
<rect x="471.85" y="352.73" width="2.00" height="2.00" fill="#000" stroke="none" stroke-width="1"/>
<rect x="497.24" y="352.37" width="2.00" height="2.00" fill="#000" stroke="none" stroke-width="1"/>
<rect x="488.21" y="351.48" width="2.00" height="2.00" fill="#000" stroke="none" stroke-width="1"/>
<rect x="475.67" y="350.64" width="2.00" height="2.00" fill="#000" stroke="none" stroke-width="1"/>
<rect x="495.43" y="350.58" width="2.00" height="2.00" fill="#000" stroke="none" stroke-width="1"/>
<rect x="480.10" y="349.66" width="2.00" height="2.00" fill="#000" stroke="none" stroke-width="1"/>
<rect x="505.41" y="349.01" width="2.00" height="2.00" fill="#000" stroke="none" stroke-width="1"/>
<rect x="492.11" y="348.67" width="2.00" height="2.00" fill="#000" stroke="none" stroke-width="1"/>
<rect x="471.57" y="347.98" width="2.00" height="2.00" fill="#000" stroke="none" stroke-width="1"/>
<rect x="500.16" y="346.91" width="2.00" height="2.00" fill="#000" stroke="none" stroke-width="1"/>
<rect x="484.36" y="346.29" width="2.00" height="2.00" fill="#000" stroke="none" stroke-width="1"/>
<rect x="469.74" y="346.22" width="2.00" height="2.00" fill="#000" stroke="none" stroke-width="1"/>
<rect x="490.04" y="345.24" width="2.00" height="2.00" fill="#000" stroke="none" stroke-width="1"/>
<rect x="474.66" y="344.47" width="2.00" height="2.00" fill="#000" stroke="none" stroke-width="1"/>
<rect x="501.16" y="344.29" width="2.00" height="2.00" fill="#000" stroke="none" stroke-width="1"/>
<rect x="491.67" y="343.51" width="2.00" height="2.00" fill="#000" stroke="none" stroke-width="1"/>
<rect x="470.59" y="343.28" width="2.00" height="2.00" fill="#000" stroke="none" stroke-width="1"/>
<rect x="497.82" y="342.61" width="2.00" height="2.00" fill="#000" stroke="none" stroke-width="1"/>
<rect x="479.63" y="341.94" width="2.00" height="2.00" fill="#000" stroke="none" stroke-width="1"/>
<rect x="502.32" y="341.47" width="2.00" height="2.00" fill="#000" stroke="none" stroke-width="1"/>
<rect x="486.67" y="340.86" width="2.00" height="2.00" fill="#000" stroke="none" stroke-width="1"/>
<rect x="478.87" y="340.70" width="2.00" height="2.00" fill="#000" stroke="none" stroke-width="1"/>
<rect x="503.22" y="340.06" width="2.00" height="2.00" fill="#000" stroke="none" stroke-width="1"/>
<rect x="483.92" y="339.28" width="2.00" height="2.00" fill="#000" stroke="none" stroke-width="1"/>
<rect x="471.73" y="338.91" width="2.00" height="2.00" fill="#000" stroke="none" stroke-width="1"/>
<rect x="496.37" y="338.47" width="2.00" height="2.00" fill="#000" stroke="none" stroke-width="1"/>
<rect x="483.32" y="337.98" width="2.00" height="2.00" fill="#000" stroke="none" stroke-width="1"/>
<rect x="468.64" y="337.17" width="2.00" height="2.00" fill="#000" stroke="none" stroke-width="1"/>
<rect x="487.85" y="336.87" width="2.00" height="2.00" fill="#000" stroke="none" stroke-width="1"/>
<rect x="478.39" y="336.64" width="2.00" height="2.00" fill="#000" stroke="none" stroke-width="1"/>
<rect x="502.84" y="335.73" width="2.00" height="2.00" fill="#000" stroke="none" stroke-width="1"/>
<rect x="483.85" y="335.46" width="2.00" height="2.00" fill="#000" stroke="none" stroke-width="1"/>
<rect x="471.50" y="334.89" width="2.00" height="2.00" fill="#000" stroke="none" stroke-width="1"/>
<rect x="492.30" y="334.49" width="2.00" height="2.00" fill="#000" stroke="none" stroke-width="1"/>
<rect x="475.86" y="333.86" width="2.00" height="2.00" fill="#000" stroke="none" stroke-width="1"/>
<rect x="499.30" y="333.41" width="2.00" height="2.00" fill="#000" stroke="none" stroke-width="1"/>
<rect x="490.31" y="333.02" width="2.00" height="2.00" fill="#000" stroke="none" stroke-width="1"/>
<rect x="507.89" y="332.23" width="2.00" height="2.00" fill="#000" stroke="none" stroke-width="1"/>
<rect x="491.69" y="331.99" width="2.00" height="2.00" fill="#000" stroke="none" stroke-width="1"/>
<rect x="483.77" y="331.13" width="2.00" height="2.00" fill="#000" stroke="none" stroke-width="1"/>
<rect x="508.18" y="331.00" width="2.00" height="2.00" fill="#000" stroke="none" stroke-width="1"/>
<rect x="489.99" y="330.11" width="2.00" height="2.00" fill="#000" stroke="none" stroke-width="1"/>
<rect x="478.25" y="329.58" width="2.00" height="2.00" fill="#000" stroke="none" stroke-width="1"/>
<rect x="495.12" y="329.23" width="2.00" height="2.00" fill="#000" stroke="none" stroke-width="1"/>
<rect x="481.90" y="328.61" width="2.00" height="2.00" fill="#000" stroke="none" stroke-width="1"/>
<rect x="506.94" y="328.33" width="2.00" height="2.00" fill="#000" stroke="none" stroke-width="1"/>
<rect x="492.96" y="327.57" width="2.00" height="2.00" fill="#000" stroke="none" stroke-width="1"/>
<rect x="475.19" y="327.22" width="2.00" height="2.00" fill="#000" stroke="none" stroke-width="1"/>
<rect x="498.90" y="326.80" width="2.00" height="2.00" fill="#000" stroke="none" stroke-width="1"/>
<rect x="486.31" y="325.92" width="2.00" height="2.00" fill="#000" stroke="none" stroke-width="1"/>
<rect x="476.64" y="325.69" width="2.00" height="2.00" fill="#000" stroke="none" stroke-width="1"/>
<rect x="502.21" y="325.19" width="2.00" height="2.00" fill="#000" stroke="none" stroke-width="1"/>
<rect x="484.55" y="324.49" width="2.00" height="2.00" fill="#000" stroke="none" stroke-width="1"/>
<rect x="506.60" y="324.31" width="2.00" height="2.00" fill="#000" stroke="none" stroke-width="1"/>
<rect x="489.06" y="323.84" width="2.00" height="2.00" fill="#000" stroke="none" stroke-width="1"/>
<rect x="480.85" y="323.66" width="2.00" height="2.00" fill="#000" stroke="none" stroke-width="1"/>
<rect x="501.23" y="323.07" width="2.00" height="2.00" fill="#000" stroke="none" stroke-width="1"/>
<rect x="487.99" y="322.92" width="2.00" height="2.00" fill="#000" stroke="none" stroke-width="1"/>
<rect x="505.70" y="322.64" width="2.00" height="2.00" fill="#000" stroke="none" stroke-width="1"/>
<rect x="492.26" y="321.95" width="2.00" height="2.00" fill="#000" stroke="none" stroke-width="1"/>
<rect x="483.25" y="321.88" width="2.00" height="2.00" fill="#000" stroke="none" stroke-width="1"/>
<rect x="507.54" y="321.25" width="2.00" height="2.00" fill="#000" stroke="none" stroke-width="1"/>
<rect x="493.12" y="320.87" width="2.00" height="2.00" fill="#000" stroke="none" stroke-width="1"/>
<rect x="475.04" y="320.65" width="2.00" height="2.00" fill="#000" stroke="none" stroke-width="1"/>
<rect x="498.01" y="320.51" width="2.00" height="2.00" fill="#000" stroke="none" stroke-width="1"/>
<rect x="484.28" y="320.13" width="2.00" height="2.00" fill="#000" stroke="none" stroke-width="1"/>
<rect x="471.68" y="319.72" width="2.00" height="2.00" fill="#000" stroke="none" stroke-width="1"/>
<rect x="490.99" y="319.30" width="2.00" height="2.00" fill="#000" stroke="none" stroke-width="1"/>
<rect x="477.98" y="318.87" width="2.00" height="2.00" fill="#000" stroke="none" stroke-width="1"/>
<rect x="500.12" y="318.38" width="2.00" height="2.00" fill="#000" stroke="none" stroke-width="1"/>
<rect x="489.76" y="318.24" width="2.00" height="2.00" fill="#000" stroke="none" stroke-width="1"/>
<rect x="506.90" y="317.96" width="2.00" height="2.00" fill="#000" stroke="none" stroke-width="1"/>
<rect x="498.37" y="317.46" width="2.00" height="2.00" fill="#000" stroke="none" stroke-width="1"/>
<rect x="485.78" y="317.25" width="2.00" height="2.00" fill="#000" stroke="none" stroke-width="1"/>
<rect x="501.20" y="316.91" width="2.00" height="2.00" fill="#000" stroke="none" stroke-width="1"/>
<rect x="491.62" y="315.81" width="2.00" height="2.00" fill="#000" stroke="none" stroke-width="1"/>
<rect x="482.00" y="314.21" width="2.00" height="2.00" fill="#000" stroke="none" stroke-width="1"/>
<rect x="496.74" y="313.69" width="2.00" height="2.00" fill="#000" stroke="none" stroke-width="1"/>
<rect x="486.87" y="311.74" width="2.00" height="2.00" fill="#000" stroke="none" stroke-width="1"/>
<rect x="498.66" y="309.99" width="2.00" height="2.00" fill="#000" stroke="none" stroke-width="1"/>
<rect x="491.08" y="308.50" width="2.00" height="2.00" fill="#000" stroke="none" stroke-width="1"/>
<rect x="485.71" y="307.63" width="2.00" height="2.00" fill="#000" stroke="none" stroke-width="1"/>
<rect x="499.02" y="305.52" width="2.00" height="2.00" fill="#000" stroke="none" stroke-width="1"/>
<rect x="486.37" y="305.13" width="2.00" height="2.00" fill="#000" stroke="none" stroke-width="1"/>
<rect x="477.75" y="302.69" width="2.00" height="2.00" fill="#000" stroke="none" stroke-width="1"/>
<rect x="491.35" y="300.80" width="2.00" height="2.00" fill="#000" stroke="none" stroke-width="1"/>
<rect x="482.56" y="298.82" width="2.00" height="2.00" fill="#000" stroke="none" stroke-width="1"/>
<rect x="493.85" y="297.72" width="2.00" height="2.00" fill="#000" stroke="none" stroke-width="1"/>
<rect x="488.35" y="296.65" width="2.00" height="2.00" fill="#000" stroke="none" stroke-width="1"/>
<rect x="485.95" y="293.10" width="2.00" height="2.00" fill="#000" stroke="none" stroke-width="1"/>
<rect x="488.30" y="435.16" width="2.00" height="2.00" fill="#000" stroke="none" stroke-width="1"/>
<rect x="488.30" y="441.66" width="2.00" height="2.00" fill="#000" stroke="none" stroke-width="1"/>
<rect x="488.30" y="288.60" width="2.00" height="2.00" fill="#000" stroke="none" stroke-width="1"/>
<text x="618.00" y="329.00" font-size="9.6" text-anchor="middle" fill="#000" stroke="#000" stroke-width="0.08" >Factor</text>
<text x="618.00" y="340.50" font-size="9.6" text-anchor="middle" fill="#000" stroke="#000" stroke-width="0.08" >(Pathologic stage)</text>
<text x="596.30" y="359.30" font-size="9.6" text-anchor="start" fill="#000" stroke="#000" stroke-width="0.08" >Stage I</text>
<text x="596.60" y="374.60" font-size="9.6" text-anchor="start" fill="#000" stroke="#000" stroke-width="0.08" >Stage II</text>
<text x="597.00" y="387.40" font-size="9.6" text-anchor="start" fill="#000" stroke="#000" stroke-width="0.08" >Stage III and IV</text>
<line x1="54.50" y1="516.00" x2="54.50" y2="636.00" stroke="#333" stroke-width="1.0"/>
<line x1="54.50" y1="636.00" x2="303.80" y2="636.00" stroke="#333" stroke-width="1.0"/>
<line x1="52.00" y1="521.50" x2="54.50" y2="521.50" stroke="#333" stroke-width="1"/>
<text x="50.50" y="524.40" font-size="8.0" text-anchor="end" fill="#000" stroke="#000" stroke-width="0.08" >1.00</text>
<line x1="52.00" y1="548.92" x2="54.50" y2="548.92" stroke="#333" stroke-width="1"/>
<text x="50.50" y="551.82" font-size="8.0" text-anchor="end" fill="#000" stroke="#000" stroke-width="0.08" >0.75</text>
<line x1="52.00" y1="576.35" x2="54.50" y2="576.35" stroke="#333" stroke-width="1"/>
<text x="50.50" y="579.25" font-size="8.0" text-anchor="end" fill="#000" stroke="#000" stroke-width="0.08" >0.50</text>
<line x1="52.00" y1="603.78" x2="54.50" y2="603.78" stroke="#333" stroke-width="1"/>
<text x="50.50" y="606.68" font-size="8.0" text-anchor="end" fill="#000" stroke="#000" stroke-width="0.08" >0.25</text>
<line x1="52.00" y1="631.20" x2="54.50" y2="631.20" stroke="#333" stroke-width="1"/>
<text x="50.50" y="634.10" font-size="8.0" text-anchor="end" fill="#000" stroke="#000" stroke-width="0.08" >0.00</text>
<line x1="65.50" y1="636.00" x2="65.50" y2="638.50" stroke="#333" stroke-width="1"/>
<text x="65.50" y="645.50" font-size="8.0" text-anchor="middle" fill="#000" stroke="#000" stroke-width="0.08" >0</text>
<line x1="103.30" y1="636.00" x2="103.30" y2="638.50" stroke="#333" stroke-width="1"/>
<text x="103.30" y="645.50" font-size="8.0" text-anchor="middle" fill="#000" stroke="#000" stroke-width="0.08" >10</text>
<line x1="141.10" y1="636.00" x2="141.10" y2="638.50" stroke="#333" stroke-width="1"/>
<text x="141.10" y="645.50" font-size="8.0" text-anchor="middle" fill="#000" stroke="#000" stroke-width="0.08" >20</text>
<line x1="178.90" y1="636.00" x2="178.90" y2="638.50" stroke="#333" stroke-width="1"/>
<text x="178.90" y="645.50" font-size="8.0" text-anchor="middle" fill="#000" stroke="#000" stroke-width="0.08" >30</text>
<line x1="216.70" y1="636.00" x2="216.70" y2="638.50" stroke="#333" stroke-width="1"/>
<text x="216.70" y="645.50" font-size="8.0" text-anchor="middle" fill="#000" stroke="#000" stroke-width="0.08" >40</text>
<line x1="254.50" y1="636.00" x2="254.50" y2="638.50" stroke="#333" stroke-width="1"/>
<text x="254.50" y="645.50" font-size="8.0" text-anchor="middle" fill="#000" stroke="#000" stroke-width="0.08" >50</text>
<line x1="292.30" y1="636.00" x2="292.30" y2="638.50" stroke="#333" stroke-width="1"/>
<text x="292.30" y="645.50" font-size="8.0" text-anchor="middle" fill="#000" stroke="#000" stroke-width="0.08" >60</text>
<text x="178.90" y="655.50" font-size="9.7" text-anchor="middle" fill="#000" stroke="#000" stroke-width="0.08" >OS (months)</text>
<text transform="translate(31.90,573.70) rotate(-90)" font-size="9.7" text-anchor="middle" fill="#000" stroke="#000" stroke-width="0.08">Five-year survival rate</text>
<text x="171.50" y="491.40" font-size="9.6" text-anchor="middle" fill="#000" stroke="#000" stroke-width="0.08" >Immune score</text>
<text x="10.00" y="496.00" font-size="12.8" text-anchor="start" fill="#000" font-weight="bold">d</text>
<text x="77.00" y="509.40" font-size="9.6" text-anchor="start" fill="#000" stroke="#000" stroke-width="0.08" >Strata</text>
<text x="70.80" y="612.20" font-size="9.3" text-anchor="start" fill="#000" stroke="#000" stroke-width="0.08" >p = 0.024</text>
<line x1="119.40" y1="506.30" x2="132.40" y2="506.30" stroke="#F8766D" stroke-width="1.4"/>
<line x1="125.90" y1="503.10" x2="125.90" y2="509.50" stroke="#F8766D" stroke-width="1.4"/>
<text x="136.30" y="509.60" font-size="9.6" text-anchor="start" fill="#000" stroke="#000" stroke-width="0.08" >group = high</text>
<line x1="206.80" y1="506.30" x2="219.80" y2="506.30" stroke="#00BFC4" stroke-width="1.4"/>
<line x1="213.30" y1="503.10" x2="213.30" y2="509.50" stroke="#00BFC4" stroke-width="1.4"/>
<text x="223.40" y="509.60" font-size="9.6" text-anchor="start" fill="#000" stroke="#000" stroke-width="0.08" >group = low</text>
<path d="M65.50 521.50 H68.40 V522.02 H71.30 V522.54 H74.20 V523.06 H77.10 V523.58 H80.51 V526.22 H82.13 V529.62 H85.00 V532.91 H88.08 V534.85 H91.15 V536.78 H94.23 V538.72 H97.25 V541.17 H100.28 V543.62 H103.30 V546.07 H106.32 V548.82 H109.35 V551.56 H112.37 V554.30 H114.73 V555.23 H117.10 V556.17 H119.46 V557.10 H121.82 V558.03 H124.47 V563.52 H127.68 V566.26 H130.89 V569.00 H133.29 V569.91 H135.68 V570.83 H138.08 V571.74 H140.72 V578.98 H144.50 V583.70 H147.34 V584.69 H150.17 V585.67 H153.57 V591.71 H155.84 V592.26 H158.11 V592.81 H160.38 V593.35 H179.28 V595.66 H197.04 V599.39 H205.74 V603.99 H230.69 V613.10 H252.61 V621.88 H293.43 V621.88" fill="none" stroke="#F8766D" stroke-width="1.3"/>
<line x1="65.39" y1="521.50" x2="69.39" y2="521.50" stroke="#F8766D" stroke-width="1.1"/>
<line x1="67.39" y1="519.40" x2="67.39" y2="523.60" stroke="#F8766D" stroke-width="1.1"/>
<line x1="69.17" y1="522.02" x2="73.17" y2="522.02" stroke="#F8766D" stroke-width="1.1"/>
<line x1="71.17" y1="519.92" x2="71.17" y2="524.12" stroke="#F8766D" stroke-width="1.1"/>
<line x1="74.84" y1="523.06" x2="78.84" y2="523.06" stroke="#F8766D" stroke-width="1.1"/>
<line x1="76.84" y1="520.96" x2="76.84" y2="525.16" stroke="#F8766D" stroke-width="1.1"/>
<line x1="78.62" y1="526.22" x2="82.62" y2="526.22" stroke="#F8766D" stroke-width="1.1"/>
<line x1="80.62" y1="524.12" x2="80.62" y2="528.32" stroke="#F8766D" stroke-width="1.1"/>
<line x1="86.18" y1="534.85" x2="90.18" y2="534.85" stroke="#F8766D" stroke-width="1.1"/>
<line x1="88.18" y1="532.75" x2="88.18" y2="536.95" stroke="#F8766D" stroke-width="1.1"/>
<line x1="89.96" y1="536.78" x2="93.96" y2="536.78" stroke="#F8766D" stroke-width="1.1"/>
<line x1="91.96" y1="534.68" x2="91.96" y2="538.88" stroke="#F8766D" stroke-width="1.1"/>
<line x1="91.85" y1="536.78" x2="95.85" y2="536.78" stroke="#F8766D" stroke-width="1.1"/>
<line x1="93.85" y1="534.68" x2="93.85" y2="538.88" stroke="#F8766D" stroke-width="1.1"/>
<line x1="95.63" y1="541.17" x2="99.63" y2="541.17" stroke="#F8766D" stroke-width="1.1"/>
<line x1="97.63" y1="539.07" x2="97.63" y2="543.27" stroke="#F8766D" stroke-width="1.1"/>
<line x1="97.52" y1="541.17" x2="101.52" y2="541.17" stroke="#F8766D" stroke-width="1.1"/>
<line x1="99.52" y1="539.07" x2="99.52" y2="543.27" stroke="#F8766D" stroke-width="1.1"/>
<line x1="101.30" y1="546.07" x2="105.30" y2="546.07" stroke="#F8766D" stroke-width="1.1"/>
<line x1="103.30" y1="543.97" x2="103.30" y2="548.17" stroke="#F8766D" stroke-width="1.1"/>
<line x1="105.08" y1="548.82" x2="109.08" y2="548.82" stroke="#F8766D" stroke-width="1.1"/>
<line x1="107.08" y1="546.72" x2="107.08" y2="550.92" stroke="#F8766D" stroke-width="1.1"/>
<line x1="106.97" y1="548.82" x2="110.97" y2="548.82" stroke="#F8766D" stroke-width="1.1"/>
<line x1="108.97" y1="546.72" x2="108.97" y2="550.92" stroke="#F8766D" stroke-width="1.1"/>
<line x1="108.86" y1="551.56" x2="112.86" y2="551.56" stroke="#F8766D" stroke-width="1.1"/>
<line x1="110.86" y1="549.46" x2="110.86" y2="553.66" stroke="#F8766D" stroke-width="1.1"/>
<line x1="112.64" y1="554.30" x2="116.64" y2="554.30" stroke="#F8766D" stroke-width="1.1"/>
<line x1="114.64" y1="552.20" x2="114.64" y2="556.40" stroke="#F8766D" stroke-width="1.1"/>
<line x1="114.53" y1="555.23" x2="118.53" y2="555.23" stroke="#F8766D" stroke-width="1.1"/>
<line x1="116.53" y1="553.13" x2="116.53" y2="557.33" stroke="#F8766D" stroke-width="1.1"/>
<line x1="116.42" y1="556.17" x2="120.42" y2="556.17" stroke="#F8766D" stroke-width="1.1"/>
<line x1="118.42" y1="554.07" x2="118.42" y2="558.27" stroke="#F8766D" stroke-width="1.1"/>
<line x1="118.31" y1="557.10" x2="122.31" y2="557.10" stroke="#F8766D" stroke-width="1.1"/>
<line x1="120.31" y1="555.00" x2="120.31" y2="559.20" stroke="#F8766D" stroke-width="1.1"/>
<line x1="120.20" y1="558.03" x2="124.20" y2="558.03" stroke="#F8766D" stroke-width="1.1"/>
<line x1="122.20" y1="555.93" x2="122.20" y2="560.13" stroke="#F8766D" stroke-width="1.1"/>
<line x1="123.98" y1="563.52" x2="127.98" y2="563.52" stroke="#F8766D" stroke-width="1.1"/>
<line x1="125.98" y1="561.42" x2="125.98" y2="565.62" stroke="#F8766D" stroke-width="1.1"/>
<line x1="125.87" y1="566.26" x2="129.87" y2="566.26" stroke="#F8766D" stroke-width="1.1"/>
<line x1="127.87" y1="564.16" x2="127.87" y2="568.36" stroke="#F8766D" stroke-width="1.1"/>
<line x1="127.76" y1="566.26" x2="131.76" y2="566.26" stroke="#F8766D" stroke-width="1.1"/>
<line x1="129.76" y1="564.16" x2="129.76" y2="568.36" stroke="#F8766D" stroke-width="1.1"/>
<line x1="131.54" y1="569.91" x2="135.54" y2="569.91" stroke="#F8766D" stroke-width="1.1"/>
<line x1="133.54" y1="567.81" x2="133.54" y2="572.01" stroke="#F8766D" stroke-width="1.1"/>
<line x1="135.32" y1="570.83" x2="139.32" y2="570.83" stroke="#F8766D" stroke-width="1.1"/>
<line x1="137.32" y1="568.73" x2="137.32" y2="572.93" stroke="#F8766D" stroke-width="1.1"/>
<line x1="140.99" y1="578.98" x2="144.99" y2="578.98" stroke="#F8766D" stroke-width="1.1"/>
<line x1="142.99" y1="576.88" x2="142.99" y2="581.08" stroke="#F8766D" stroke-width="1.1"/>
<line x1="142.88" y1="583.70" x2="146.88" y2="583.70" stroke="#F8766D" stroke-width="1.1"/>
<line x1="144.88" y1="581.60" x2="144.88" y2="585.80" stroke="#F8766D" stroke-width="1.1"/>
<line x1="146.66" y1="584.69" x2="150.66" y2="584.69" stroke="#F8766D" stroke-width="1.1"/>
<line x1="148.66" y1="582.59" x2="148.66" y2="586.79" stroke="#F8766D" stroke-width="1.1"/>
<line x1="150.44" y1="585.67" x2="154.44" y2="585.67" stroke="#F8766D" stroke-width="1.1"/>
<line x1="152.44" y1="583.57" x2="152.44" y2="587.77" stroke="#F8766D" stroke-width="1.1"/>
<line x1="156.11" y1="592.81" x2="160.11" y2="592.81" stroke="#F8766D" stroke-width="1.1"/>
<line x1="158.11" y1="590.71" x2="158.11" y2="594.91" stroke="#F8766D" stroke-width="1.1"/>
<line x1="161.78" y1="593.35" x2="165.78" y2="593.35" stroke="#F8766D" stroke-width="1.1"/>
<line x1="163.78" y1="591.25" x2="163.78" y2="595.45" stroke="#F8766D" stroke-width="1.1"/>
<line x1="165.56" y1="593.35" x2="169.56" y2="593.35" stroke="#F8766D" stroke-width="1.1"/>
<line x1="167.56" y1="591.25" x2="167.56" y2="595.45" stroke="#F8766D" stroke-width="1.1"/>
<line x1="171.23" y1="593.35" x2="175.23" y2="593.35" stroke="#F8766D" stroke-width="1.1"/>
<line x1="173.23" y1="591.25" x2="173.23" y2="595.45" stroke="#F8766D" stroke-width="1.1"/>
<line x1="178.79" y1="595.66" x2="182.79" y2="595.66" stroke="#F8766D" stroke-width="1.1"/>
<line x1="180.79" y1="593.56" x2="180.79" y2="597.76" stroke="#F8766D" stroke-width="1.1"/>
<line x1="182.57" y1="595.66" x2="186.57" y2="595.66" stroke="#F8766D" stroke-width="1.1"/>
<line x1="184.57" y1="593.56" x2="184.57" y2="597.76" stroke="#F8766D" stroke-width="1.1"/>
<line x1="184.46" y1="595.66" x2="188.46" y2="595.66" stroke="#F8766D" stroke-width="1.1"/>
<line x1="186.46" y1="593.56" x2="186.46" y2="597.76" stroke="#F8766D" stroke-width="1.1"/>
<line x1="192.02" y1="595.66" x2="196.02" y2="595.66" stroke="#F8766D" stroke-width="1.1"/>
<line x1="194.02" y1="593.56" x2="194.02" y2="597.76" stroke="#F8766D" stroke-width="1.1"/>
<line x1="193.91" y1="595.66" x2="197.91" y2="595.66" stroke="#F8766D" stroke-width="1.1"/>
<line x1="195.91" y1="593.56" x2="195.91" y2="597.76" stroke="#F8766D" stroke-width="1.1"/>
<line x1="201.85" y1="599.39" x2="205.85" y2="599.39" stroke="#F8766D" stroke-width="1.1"/>
<line x1="203.85" y1="597.29" x2="203.85" y2="601.49" stroke="#F8766D" stroke-width="1.1"/>
<line x1="221.50" y1="603.99" x2="225.50" y2="603.99" stroke="#F8766D" stroke-width="1.1"/>
<line x1="223.50" y1="601.89" x2="223.50" y2="606.09" stroke="#F8766D" stroke-width="1.1"/>
<line x1="224.53" y1="603.99" x2="228.53" y2="603.99" stroke="#F8766D" stroke-width="1.1"/>
<line x1="226.53" y1="601.89" x2="226.53" y2="606.09" stroke="#F8766D" stroke-width="1.1"/>
<line x1="227.55" y1="603.99" x2="231.55" y2="603.99" stroke="#F8766D" stroke-width="1.1"/>
<line x1="229.55" y1="601.89" x2="229.55" y2="606.09" stroke="#F8766D" stroke-width="1.1"/>
<line x1="290.30" y1="621.88" x2="294.30" y2="621.88" stroke="#F8766D" stroke-width="1.1"/>
<line x1="292.30" y1="619.78" x2="292.30" y2="623.98" stroke="#F8766D" stroke-width="1.1"/>
<path d="M65.50 521.50 H67.20 V523.69 H83.64 V529.95 H96.31 V535.54 H99.52 V537.19 H101.79 V539.27 H104.28 V541.58 H112.90 V543.99 H114.64 V546.62 H116.30 V549.14 H119.71 V551.78 H124.81 V554.63 H126.51 V557.59 H129.00 V560.66 H131.91 V566.26 H148.21 V569.99 H156.79 V574.16 H293.43 V574.16" fill="none" stroke="#00BFC4" stroke-width="1.3"/>
<line x1="64.63" y1="521.50" x2="68.63" y2="521.50" stroke="#00BFC4" stroke-width="1.1"/>
<line x1="66.63" y1="519.40" x2="66.63" y2="523.60" stroke="#00BFC4" stroke-width="1.1"/>
<line x1="99.79" y1="539.27" x2="103.79" y2="539.27" stroke="#00BFC4" stroke-width="1.1"/>
<line x1="101.79" y1="537.17" x2="101.79" y2="541.37" stroke="#00BFC4" stroke-width="1.1"/>
<line x1="111.88" y1="543.99" x2="115.88" y2="543.99" stroke="#00BFC4" stroke-width="1.1"/>
<line x1="113.88" y1="541.89" x2="113.88" y2="546.09" stroke="#00BFC4" stroke-width="1.1"/>
<line x1="124.51" y1="557.59" x2="128.51" y2="557.59" stroke="#00BFC4" stroke-width="1.1"/>
<line x1="126.51" y1="555.49" x2="126.51" y2="559.69" stroke="#00BFC4" stroke-width="1.1"/>
<line x1="138.72" y1="566.26" x2="142.72" y2="566.26" stroke="#00BFC4" stroke-width="1.1"/>
<line x1="140.72" y1="564.16" x2="140.72" y2="568.36" stroke="#00BFC4" stroke-width="1.1"/>
<line x1="146.28" y1="569.99" x2="150.28" y2="569.99" stroke="#00BFC4" stroke-width="1.1"/>
<line x1="148.28" y1="567.89" x2="148.28" y2="572.09" stroke="#00BFC4" stroke-width="1.1"/>
<line x1="185.22" y1="574.16" x2="189.22" y2="574.16" stroke="#00BFC4" stroke-width="1.1"/>
<line x1="187.22" y1="572.06" x2="187.22" y2="576.26" stroke="#00BFC4" stroke-width="1.1"/>
<line x1="187.11" y1="574.16" x2="191.11" y2="574.16" stroke="#00BFC4" stroke-width="1.1"/>
<line x1="189.11" y1="572.06" x2="189.11" y2="576.26" stroke="#00BFC4" stroke-width="1.1"/>
<line x1="200.71" y1="574.16" x2="204.71" y2="574.16" stroke="#00BFC4" stroke-width="1.1"/>
<line x1="202.71" y1="572.06" x2="202.71" y2="576.26" stroke="#00BFC4" stroke-width="1.1"/>
<line x1="214.70" y1="574.16" x2="218.70" y2="574.16" stroke="#00BFC4" stroke-width="1.1"/>
<line x1="216.70" y1="572.06" x2="216.70" y2="576.26" stroke="#00BFC4" stroke-width="1.1"/>
<line x1="235.49" y1="574.16" x2="239.49" y2="574.16" stroke="#00BFC4" stroke-width="1.1"/>
<line x1="237.49" y1="572.06" x2="237.49" y2="576.26" stroke="#00BFC4" stroke-width="1.1"/>
<line x1="255.52" y1="574.16" x2="259.52" y2="574.16" stroke="#00BFC4" stroke-width="1.1"/>
<line x1="257.52" y1="572.06" x2="257.52" y2="576.26" stroke="#00BFC4" stroke-width="1.1"/>
<line x1="286.52" y1="574.16" x2="290.52" y2="574.16" stroke="#00BFC4" stroke-width="1.1"/>
<line x1="288.52" y1="572.06" x2="288.52" y2="576.26" stroke="#00BFC4" stroke-width="1.1"/>
<line x1="290.30" y1="574.16" x2="294.30" y2="574.16" stroke="#00BFC4" stroke-width="1.1"/>
<line x1="292.30" y1="572.06" x2="292.30" y2="576.26" stroke="#00BFC4" stroke-width="1.1"/>
<line x1="372.40" y1="517.30" x2="372.40" y2="635.60" stroke="#333" stroke-width="1.0"/>
<line x1="372.40" y1="635.60" x2="618.60" y2="635.60" stroke="#333" stroke-width="1.0"/>
<line x1="369.90" y1="521.80" x2="372.40" y2="521.80" stroke="#333" stroke-width="1"/>
<text x="368.40" y="524.70" font-size="8.0" text-anchor="end" fill="#000" stroke="#000" stroke-width="0.08" >1.00</text>
<line x1="369.90" y1="549.05" x2="372.40" y2="549.05" stroke="#333" stroke-width="1"/>
<text x="368.40" y="551.95" font-size="8.0" text-anchor="end" fill="#000" stroke="#000" stroke-width="0.08" >0.75</text>
<line x1="369.90" y1="576.30" x2="372.40" y2="576.30" stroke="#333" stroke-width="1"/>
<text x="368.40" y="579.20" font-size="8.0" text-anchor="end" fill="#000" stroke="#000" stroke-width="0.08" >0.50</text>
<line x1="369.90" y1="603.55" x2="372.40" y2="603.55" stroke="#333" stroke-width="1"/>
<text x="368.40" y="606.45" font-size="8.0" text-anchor="end" fill="#000" stroke="#000" stroke-width="0.08" >0.25</text>
<line x1="369.90" y1="630.80" x2="372.40" y2="630.80" stroke="#333" stroke-width="1"/>
<text x="368.40" y="633.70" font-size="8.0" text-anchor="end" fill="#000" stroke="#000" stroke-width="0.08" >0.00</text>
<line x1="383.50" y1="635.60" x2="383.50" y2="638.10" stroke="#333" stroke-width="1"/>
<text x="383.50" y="645.10" font-size="8.0" text-anchor="middle" fill="#000" stroke="#000" stroke-width="0.08" >0</text>
<line x1="420.80" y1="635.60" x2="420.80" y2="638.10" stroke="#333" stroke-width="1"/>
<text x="420.80" y="645.10" font-size="8.0" text-anchor="middle" fill="#000" stroke="#000" stroke-width="0.08" >10</text>
<line x1="458.10" y1="635.60" x2="458.10" y2="638.10" stroke="#333" stroke-width="1"/>
<text x="458.10" y="645.10" font-size="8.0" text-anchor="middle" fill="#000" stroke="#000" stroke-width="0.08" >20</text>
<line x1="495.40" y1="635.60" x2="495.40" y2="638.10" stroke="#333" stroke-width="1"/>
<text x="495.40" y="645.10" font-size="8.0" text-anchor="middle" fill="#000" stroke="#000" stroke-width="0.08" >30</text>
<line x1="532.70" y1="635.60" x2="532.70" y2="638.10" stroke="#333" stroke-width="1"/>
<text x="532.70" y="645.10" font-size="8.0" text-anchor="middle" fill="#000" stroke="#000" stroke-width="0.08" >40</text>
<line x1="570.00" y1="635.60" x2="570.00" y2="638.10" stroke="#333" stroke-width="1"/>
<text x="570.00" y="645.10" font-size="8.0" text-anchor="middle" fill="#000" stroke="#000" stroke-width="0.08" >50</text>
<line x1="607.30" y1="635.60" x2="607.30" y2="638.10" stroke="#333" stroke-width="1"/>
<text x="607.30" y="645.10" font-size="8.0" text-anchor="middle" fill="#000" stroke="#000" stroke-width="0.08" >60</text>
<text x="495.40" y="655.50" font-size="9.7" text-anchor="middle" fill="#000" stroke="#000" stroke-width="0.08" >OS (months)</text>
<text transform="translate(349.90,576.30) rotate(-90)" font-size="9.7" text-anchor="middle" fill="#000" stroke="#000" stroke-width="0.08">Five-year survival rate</text>
<text x="495.00" y="491.40" font-size="9.6" text-anchor="middle" fill="#000" stroke="#000" stroke-width="0.08" >Stromal score</text>
<text x="329.40" y="496.00" font-size="12.8" text-anchor="start" fill="#000" font-weight="bold">e</text>
<text x="400.60" y="509.40" font-size="9.6" text-anchor="start" fill="#000" stroke="#000" stroke-width="0.08" >Strata</text>
<text x="388.00" y="612.20" font-size="9.3" text-anchor="start" fill="#000" stroke="#000" stroke-width="0.08" >p = 0.37</text>
<line x1="442.00" y1="506.30" x2="455.00" y2="506.30" stroke="#F8766D" stroke-width="1.4"/>
<line x1="448.50" y1="503.10" x2="448.50" y2="509.50" stroke="#F8766D" stroke-width="1.4"/>
<text x="459.00" y="509.60" font-size="9.6" text-anchor="start" fill="#000" stroke="#000" stroke-width="0.08" >group = high</text>
<line x1="530.00" y1="506.30" x2="543.00" y2="506.30" stroke="#00BFC4" stroke-width="1.4"/>
<line x1="536.50" y1="503.10" x2="536.50" y2="509.50" stroke="#00BFC4" stroke-width="1.4"/>
<text x="546.30" y="509.60" font-size="9.6" text-anchor="start" fill="#000" stroke="#000" stroke-width="0.08" >group = low</text>
<path d="M383.50 521.80 H385.89 V522.17 H388.27 V522.54 H390.66 V522.91 H393.05 V523.28 H395.44 V523.65 H397.97 V527.03 H400.51 V530.41 H403.34 V531.83 H406.18 V533.24 H409.01 V534.66 H411.55 V536.41 H414.09 V538.15 H416.32 V540.11 H418.56 V542.07 H420.80 V544.04 H423.10 V545.45 H425.40 V546.87 H427.70 V548.29 H430.22 V550.85 H432.74 V553.41 H435.10 V554.28 H437.46 V555.15 H439.82 V556.03 H443.18 V564.53 H445.42 V566.24 H447.66 V567.94 H449.89 V569.65 H452.88 V570.47 H455.86 V571.29 H458.47 V579.79 H461.83 V583.17 H464.44 V583.60 H467.05 V584.04 H470.41 V590.03 H472.65 V590.58 H474.88 V591.12 H477.12 V591.67 H495.40 V593.74 H512.93 V597.01 H546.13 V602.46 H567.39 V607.80 H608.42 V607.80" fill="none" stroke="#F8766D" stroke-width="1.3"/>
<line x1="383.37" y1="521.80" x2="387.37" y2="521.80" stroke="#F8766D" stroke-width="1.1"/>
<line x1="385.37" y1="519.70" x2="385.37" y2="523.90" stroke="#F8766D" stroke-width="1.1"/>
<line x1="388.96" y1="522.91" x2="392.96" y2="522.91" stroke="#F8766D" stroke-width="1.1"/>
<line x1="390.96" y1="520.81" x2="390.96" y2="525.01" stroke="#F8766D" stroke-width="1.1"/>
<line x1="392.69" y1="523.28" x2="396.69" y2="523.28" stroke="#F8766D" stroke-width="1.1"/>
<line x1="394.69" y1="521.18" x2="394.69" y2="525.38" stroke="#F8766D" stroke-width="1.1"/>
<line x1="396.42" y1="527.03" x2="400.42" y2="527.03" stroke="#F8766D" stroke-width="1.1"/>
<line x1="398.42" y1="524.93" x2="398.42" y2="529.13" stroke="#F8766D" stroke-width="1.1"/>
<line x1="405.75" y1="533.24" x2="409.75" y2="533.24" stroke="#F8766D" stroke-width="1.1"/>
<line x1="407.75" y1="531.14" x2="407.75" y2="535.34" stroke="#F8766D" stroke-width="1.1"/>
<line x1="409.48" y1="534.66" x2="413.48" y2="534.66" stroke="#F8766D" stroke-width="1.1"/>
<line x1="411.48" y1="532.56" x2="411.48" y2="536.76" stroke="#F8766D" stroke-width="1.1"/>
<line x1="415.07" y1="540.11" x2="419.07" y2="540.11" stroke="#F8766D" stroke-width="1.1"/>
<line x1="417.07" y1="538.01" x2="417.07" y2="542.21" stroke="#F8766D" stroke-width="1.1"/>
<line x1="420.67" y1="544.04" x2="424.67" y2="544.04" stroke="#F8766D" stroke-width="1.1"/>
<line x1="422.67" y1="541.94" x2="422.67" y2="546.14" stroke="#F8766D" stroke-width="1.1"/>
<line x1="424.39" y1="546.87" x2="428.39" y2="546.87" stroke="#F8766D" stroke-width="1.1"/>
<line x1="426.39" y1="544.77" x2="426.39" y2="548.97" stroke="#F8766D" stroke-width="1.1"/>
<line x1="428.12" y1="548.29" x2="432.12" y2="548.29" stroke="#F8766D" stroke-width="1.1"/>
<line x1="430.12" y1="546.19" x2="430.12" y2="550.39" stroke="#F8766D" stroke-width="1.1"/>
<line x1="431.86" y1="553.41" x2="435.86" y2="553.41" stroke="#F8766D" stroke-width="1.1"/>
<line x1="433.86" y1="551.31" x2="433.86" y2="555.51" stroke="#F8766D" stroke-width="1.1"/>
<line x1="435.58" y1="555.15" x2="439.58" y2="555.15" stroke="#F8766D" stroke-width="1.1"/>
<line x1="437.58" y1="553.05" x2="437.58" y2="557.25" stroke="#F8766D" stroke-width="1.1"/>
<line x1="443.05" y1="564.53" x2="447.05" y2="564.53" stroke="#F8766D" stroke-width="1.1"/>
<line x1="445.05" y1="562.43" x2="445.05" y2="566.63" stroke="#F8766D" stroke-width="1.1"/>
<line x1="448.64" y1="569.65" x2="452.64" y2="569.65" stroke="#F8766D" stroke-width="1.1"/>
<line x1="450.64" y1="567.55" x2="450.64" y2="571.75" stroke="#F8766D" stroke-width="1.1"/>
<line x1="461.69" y1="583.17" x2="465.69" y2="583.17" stroke="#F8766D" stroke-width="1.1"/>
<line x1="463.69" y1="581.07" x2="463.69" y2="585.27" stroke="#F8766D" stroke-width="1.1"/>
<line x1="465.43" y1="584.04" x2="469.43" y2="584.04" stroke="#F8766D" stroke-width="1.1"/>
<line x1="467.43" y1="581.94" x2="467.43" y2="586.14" stroke="#F8766D" stroke-width="1.1"/>
<line x1="467.29" y1="584.04" x2="471.29" y2="584.04" stroke="#F8766D" stroke-width="1.1"/>
<line x1="469.29" y1="581.94" x2="469.29" y2="586.14" stroke="#F8766D" stroke-width="1.1"/>
<line x1="472.88" y1="591.12" x2="476.88" y2="591.12" stroke="#F8766D" stroke-width="1.1"/>
<line x1="474.88" y1="589.02" x2="474.88" y2="593.22" stroke="#F8766D" stroke-width="1.1"/>
<line x1="478.48" y1="591.67" x2="482.48" y2="591.67" stroke="#F8766D" stroke-width="1.1"/>
<line x1="480.48" y1="589.57" x2="480.48" y2="593.77" stroke="#F8766D" stroke-width="1.1"/>
<line x1="482.21" y1="591.67" x2="486.21" y2="591.67" stroke="#F8766D" stroke-width="1.1"/>
<line x1="484.21" y1="589.57" x2="484.21" y2="593.77" stroke="#F8766D" stroke-width="1.1"/>
<line x1="495.64" y1="593.74" x2="499.64" y2="593.74" stroke="#F8766D" stroke-width="1.1"/>
<line x1="497.64" y1="591.64" x2="497.64" y2="595.84" stroke="#F8766D" stroke-width="1.1"/>
<line x1="499.00" y1="593.74" x2="503.00" y2="593.74" stroke="#F8766D" stroke-width="1.1"/>
<line x1="501.00" y1="591.64" x2="501.00" y2="595.84" stroke="#F8766D" stroke-width="1.1"/>
<line x1="506.45" y1="593.74" x2="510.45" y2="593.74" stroke="#F8766D" stroke-width="1.1"/>
<line x1="508.45" y1="591.64" x2="508.45" y2="595.84" stroke="#F8766D" stroke-width="1.1"/>
<line x1="508.32" y1="593.74" x2="512.32" y2="593.74" stroke="#F8766D" stroke-width="1.1"/>
<line x1="510.32" y1="591.64" x2="510.32" y2="595.84" stroke="#F8766D" stroke-width="1.1"/>
<line x1="518.02" y1="597.01" x2="522.02" y2="597.01" stroke="#F8766D" stroke-width="1.1"/>
<line x1="520.02" y1="594.91" x2="520.02" y2="599.11" stroke="#F8766D" stroke-width="1.1"/>
<line x1="535.55" y1="597.01" x2="539.55" y2="597.01" stroke="#F8766D" stroke-width="1.1"/>
<line x1="537.55" y1="594.91" x2="537.55" y2="599.11" stroke="#F8766D" stroke-width="1.1"/>
<line x1="539.65" y1="597.01" x2="543.65" y2="597.01" stroke="#F8766D" stroke-width="1.1"/>
<line x1="541.65" y1="594.91" x2="541.65" y2="599.11" stroke="#F8766D" stroke-width="1.1"/>
<line x1="605.30" y1="607.80" x2="609.30" y2="607.80" stroke="#F8766D" stroke-width="1.1"/>
<line x1="607.30" y1="605.70" x2="607.30" y2="609.90" stroke="#F8766D" stroke-width="1.1"/>
<path d="M383.50 521.80 H385.22 V524.52 H388.61 V527.03 H398.79 V532.15 H402.15 V538.15 H411.48 V545.67 H420.05 V546.65 H421.92 V549.05 H428.63 V554.17 H431.99 V557.55 H438.70 V561.04 H441.31 V564.53 H443.93 V569.76 H463.32 V577.17 H473.77 V581.53 H521.88 V586.87 H608.42 V586.87" fill="none" stroke="#00BFC4" stroke-width="1.3"/>
<line x1="382.62" y1="521.80" x2="386.62" y2="521.80" stroke="#00BFC4" stroke-width="1.1"/>
<line x1="384.62" y1="519.70" x2="384.62" y2="523.90" stroke="#00BFC4" stroke-width="1.1"/>
<line x1="439.31" y1="564.53" x2="443.31" y2="564.53" stroke="#00BFC4" stroke-width="1.1"/>
<line x1="441.31" y1="562.43" x2="441.31" y2="566.63" stroke="#00BFC4" stroke-width="1.1"/>
<line x1="455.35" y1="569.76" x2="459.35" y2="569.76" stroke="#00BFC4" stroke-width="1.1"/>
<line x1="457.35" y1="567.66" x2="457.35" y2="571.86" stroke="#00BFC4" stroke-width="1.1"/>
<line x1="463.19" y1="577.17" x2="467.19" y2="577.17" stroke="#00BFC4" stroke-width="1.1"/>
<line x1="465.19" y1="575.07" x2="465.19" y2="579.27" stroke="#00BFC4" stroke-width="1.1"/>
<line x1="471.77" y1="581.53" x2="475.77" y2="581.53" stroke="#00BFC4" stroke-width="1.1"/>
<line x1="473.77" y1="579.43" x2="473.77" y2="583.63" stroke="#00BFC4" stroke-width="1.1"/>
<line x1="484.82" y1="581.53" x2="488.82" y2="581.53" stroke="#00BFC4" stroke-width="1.1"/>
<line x1="486.82" y1="579.43" x2="486.82" y2="583.63" stroke="#00BFC4" stroke-width="1.1"/>
<line x1="501.98" y1="581.53" x2="505.98" y2="581.53" stroke="#00BFC4" stroke-width="1.1"/>
<line x1="503.98" y1="579.43" x2="503.98" y2="583.63" stroke="#00BFC4" stroke-width="1.1"/>
<line x1="503.84" y1="581.53" x2="507.84" y2="581.53" stroke="#00BFC4" stroke-width="1.1"/>
<line x1="505.84" y1="579.43" x2="505.84" y2="583.63" stroke="#00BFC4" stroke-width="1.1"/>
<line x1="530.70" y1="586.87" x2="534.70" y2="586.87" stroke="#00BFC4" stroke-width="1.1"/>
<line x1="532.70" y1="584.77" x2="532.70" y2="588.97" stroke="#00BFC4" stroke-width="1.1"/>
<line x1="551.22" y1="586.87" x2="555.22" y2="586.87" stroke="#00BFC4" stroke-width="1.1"/>
<line x1="553.22" y1="584.77" x2="553.22" y2="588.97" stroke="#00BFC4" stroke-width="1.1"/>
<line x1="570.98" y1="586.87" x2="574.98" y2="586.87" stroke="#00BFC4" stroke-width="1.1"/>
<line x1="572.98" y1="584.77" x2="572.98" y2="588.97" stroke="#00BFC4" stroke-width="1.1"/>
<line x1="601.20" y1="586.87" x2="605.20" y2="586.87" stroke="#00BFC4" stroke-width="1.1"/>
<line x1="603.20" y1="584.77" x2="603.20" y2="588.97" stroke="#00BFC4" stroke-width="1.1"/>
<line x1="604.55" y1="586.87" x2="608.55" y2="586.87" stroke="#00BFC4" stroke-width="1.1"/>
<line x1="606.55" y1="584.77" x2="606.55" y2="588.97" stroke="#00BFC4" stroke-width="1.1"/>
</svg></body></html>
